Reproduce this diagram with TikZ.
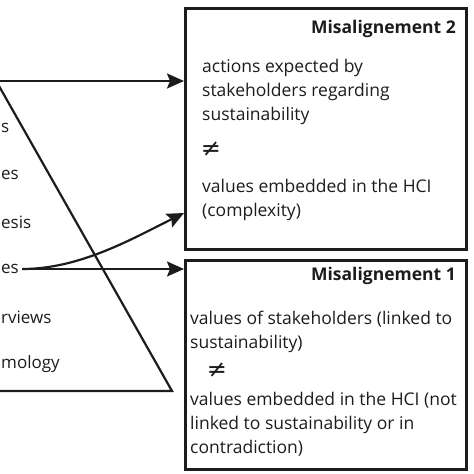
\documentclass[tikz,border=0pt]{standalone}
\usepackage{fontspec}
\setmainfont{Open Sans}
\newfontfamily\symfont{DejaVu Sans}
\usetikzlibrary{arrows.meta}

\definecolor{ink}{HTML}{1c1c1c}

\tikzset{
  misbox/.style={draw=ink, line width=2.8pt, anchor=north west, inner sep=0pt},
  body/.style={anchor=north west, align=left, inner sep=0pt, text=ink,
    font=\fontsize{17.5}{24}\selectfont},
  title/.style={anchor=north east, inner sep=0pt, text=ink,
    font=\fontsize{17.5}{24}\selectfont\bfseries},
  neq/.style={inner sep=0pt, text=ink, font=\fontsize{24}{24}\symfont},
  frag/.style={anchor=west, inner sep=0pt, text=ink,
    font=\fontsize{17}{24}\selectfont},
  conn/.style={draw=ink, line width=2.2pt, -{Stealth[length=17pt,width=15pt,inset=3pt]}},
}

\begin{document}
\begin{tikzpicture}[x=1pt,y=-1pt]
\useasboundingbox (0,0) rectangle (474,474);

% the two misalignment boxes
\node[misbox, minimum width=281pt, minimum height=241pt] (mis2) at (184,7) {};
\node[misbox, minimum width=281pt, minimum height=209pt] (mis1) at (184,259) {};

\node[title] (mis2t) at (456,20) {Misalignement 2};
\node[body] (mis2a) at (202,59) {actions expected by\\stakeholders regarding\\sustainability};
\node[neq] (mis2n) at (211,149) {≠};
\node[body] (mis2b) at (202,179) {values embedded in the HCI\\(complexity)};

\node[title] (mis1t) at (456,267) {Misalignement 1};
\node[body] (mis1a) at (190,311) {values of stakeholders (linked to\\sustainability)};
\node[neq] (mis1n) at (217,370) {≠};
\node[body] (mis1b) at (190,392) {values embedded in the HCI (not\\linked to sustainability or in\\contradiction)};

% cut-off list on the left
\node[frag] (r1) at (1,128) {s};
\node[frag] (r2) at (1,175) {es};
\node[frag] (r3) at (1,222) {esis};
\node[frag, inner xsep=3pt] (r4) at (-2,269) {es};
\node[frag] (r5) at (1,317) {rviews};
\node[frag] (r6) at (1,364) {mology};

\draw[draw=ink, line width=2.2pt] (-1,86) -- (172,391) -- (-2,391);

\coordinate (topin) at (-2,81);
\coordinate (m2in) at (184,213);
\draw[conn] (topin) -- (topin -| mis2.west);
\draw[conn] (r4.east) -- (r4.east -| mis1.west);
\draw[conn] (r4.east) .. controls +(57,0) and +(-54,27) .. (m2in);
\end{tikzpicture}
\end{document}
